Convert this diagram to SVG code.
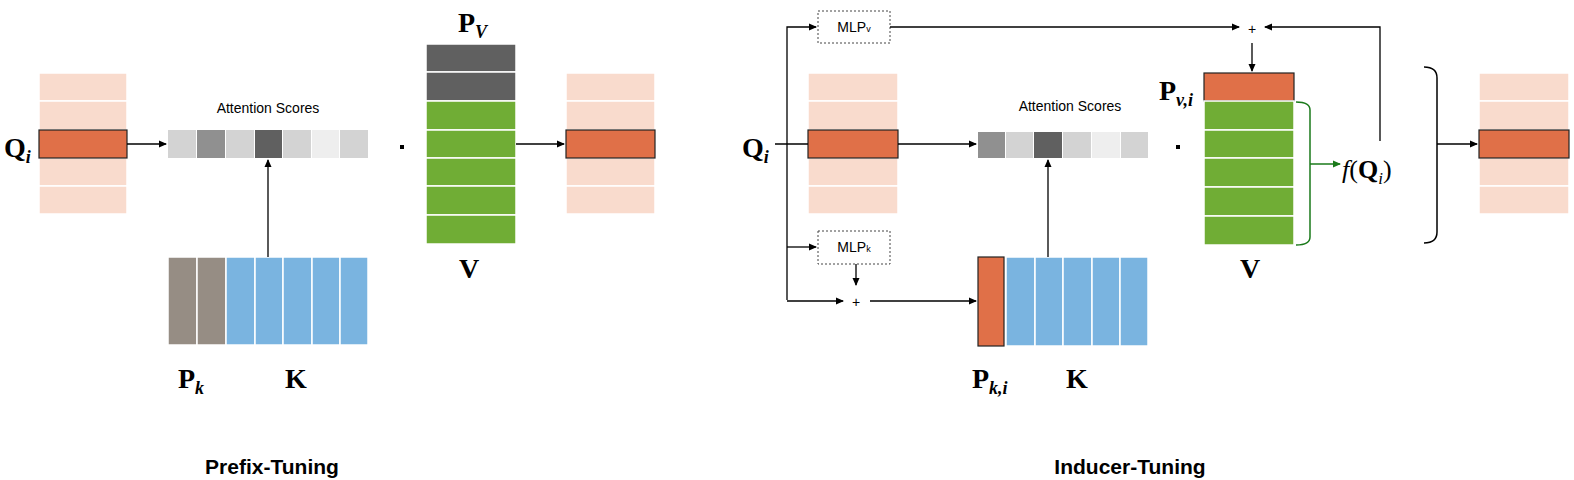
<svg xmlns="http://www.w3.org/2000/svg" width="1574" height="480" viewBox="0 0 1574 480">
<defs>
<marker id="ah" markerWidth="8" markerHeight="8" refX="7" refY="4" orient="auto" markerUnits="userSpaceOnUse"><path d="M0,0.5 L8,4 L0,7.5 Z" fill="#000"/></marker>
<marker id="ag" markerWidth="8" markerHeight="8" refX="7" refY="4" orient="auto" markerUnits="userSpaceOnUse"><path d="M0,0.5 L8,4 L0,7.5 Z" fill="#1a7a1a"/></marker>
<style>
.pk{fill:#f9dbcd;stroke:#fff;stroke-width:1.5}
.or{fill:#e07048;stroke:#222;stroke-width:1.2}
.gr{fill:#70ad35;stroke:#fff;stroke-width:1.5}
.dk{fill:#606060;stroke:#fff;stroke-width:1.5}
.bl{fill:#7ab4e0;stroke:#fff;stroke-width:1.5}
.tp{fill:#968d84;stroke:#fff;stroke-width:1.5}
.ln{fill:none;stroke:#000;stroke-width:1.3}
.m{font-family:"Liberation Serif",serif;font-weight:bold;font-size:28px}
.s{font-family:"Liberation Serif",serif;font-style:italic;font-size:18px}
.lab{font-family:"Liberation Sans",Arial,sans-serif;font-size:14px}
.title{font-family:"Liberation Sans",Arial,sans-serif;font-weight:bold;font-size:21px}
.mlp{fill:#fff;stroke:#444;stroke-width:1;stroke-dasharray:2,2}
</style>
</defs>
<rect width="1574" height="480" fill="#fff"/>

<!-- Prefix-Tuning -->
<g id="q-left">
<rect class="pk" x="39" y="73" width="88" height="28"/><rect class="pk" x="39" y="101" width="88" height="29"/>
<rect class="pk" x="39" y="158" width="88" height="28"/><rect class="pk" x="39" y="186" width="88" height="28"/>
<rect class="or" x="39" y="130" width="88" height="28"/>
<text class="m" x="4" y="157">Q<tspan class="s" dy="6">i</tspan></text>
</g>
<g id="scores-left">
<text class="lab" x="268" y="113" text-anchor="middle">Attention Scores</text>
<rect x="168" y="130" width="28" height="28" fill="#d3d3d3"/>
<rect x="197" y="130" width="28" height="28" fill="#909090"/>
<rect x="226" y="130" width="28" height="28" fill="#d3d3d3"/>
<rect x="255" y="130" width="27" height="28" fill="#606060"/>
<rect x="283" y="130" width="28" height="28" fill="#d3d3d3"/>
<rect x="312" y="130" width="27" height="28" fill="#eeeeee"/>
<rect x="340" y="130" width="28" height="28" fill="#d3d3d3"/>
<rect x="400" y="145" width="4" height="4" fill="#000"/>
</g>
<g id="k-left">
<rect class="tp" x="168" y="257" width="29" height="88"/><rect class="tp" x="197" y="257" width="29" height="88"/>
<rect class="bl" x="226" y="257" width="29" height="88"/><rect class="bl" x="255" y="257" width="28" height="88"/>
<rect class="bl" x="283" y="257" width="29" height="88"/><rect class="bl" x="312" y="257" width="28" height="88"/>
<rect class="bl" x="340" y="257" width="28" height="88"/>
<text class="m" x="178" y="388">P<tspan class="s" dy="6">k</tspan></text>
<text class="m" x="285" y="388">K</text>
</g>
<g id="v-left">
<rect class="dk" x="426" y="44" width="90" height="28"/><rect class="dk" x="426" y="72" width="90" height="29"/>
<rect class="gr" x="426" y="101" width="90" height="29"/><rect class="gr" x="426" y="130" width="90" height="28"/>
<rect class="gr" x="426" y="158" width="90" height="28"/><rect class="gr" x="426" y="186" width="90" height="29"/>
<rect class="gr" x="426" y="215" width="90" height="29"/>
<text class="m" x="458" y="32">P<tspan class="s" dy="6">V</tspan></text>
<text class="m" x="459" y="278">V</text>
</g>
<g id="out-left">
<rect class="pk" x="566" y="73" width="89" height="28"/><rect class="pk" x="566" y="101" width="89" height="29"/>
<rect class="pk" x="566" y="158" width="89" height="28"/><rect class="pk" x="566" y="186" width="89" height="28"/>
<rect class="or" x="566" y="130" width="89" height="28"/>
</g>
<text class="title" x="272" y="474" text-anchor="middle">Prefix-Tuning</text>

<!-- Inducer-Tuning -->
<g id="q-right">
<rect class="pk" x="808" y="73" width="90" height="28"/><rect class="pk" x="808" y="101" width="90" height="29"/>
<rect class="pk" x="808" y="158" width="90" height="28"/><rect class="pk" x="808" y="186" width="90" height="28"/>
<rect class="or" x="808" y="130" width="90" height="28"/>
<text class="m" x="742" y="157">Q<tspan class="s" dy="6">i</tspan></text>
</g>
<g id="mlpv"><rect class="mlp" x="818" y="11" width="72" height="32"/><text class="lab" x="854" y="32" text-anchor="middle">MLP<tspan font-size="9">v</tspan></text></g>
<g id="mlpk"><rect class="mlp" x="818" y="231" width="72" height="33"/><text class="lab" x="854" y="252" text-anchor="middle">MLP<tspan font-size="9">k</tspan></text></g>
<g id="plus-top"><text class="lab" x="1252" y="34" text-anchor="middle" font-size="12">+</text></g>
<g id="plus-bot"><text class="lab" x="856" y="307" text-anchor="middle" font-size="12">+</text></g>
<g id="scores-right">
<text class="lab" x="1070" y="111" text-anchor="middle">Attention Scores</text>
<rect x="978" y="132" width="27" height="26" fill="#909090"/>
<rect x="1006" y="132" width="27" height="26" fill="#d3d3d3"/>
<rect x="1034" y="132" width="28" height="26" fill="#606060"/>
<rect x="1063" y="132" width="28" height="26" fill="#d3d3d3"/>
<rect x="1092" y="132" width="28" height="26" fill="#eeeeee"/>
<rect x="1121" y="132" width="27" height="26" fill="#d3d3d3"/>
<rect x="1176" y="145" width="4" height="4" fill="#000"/>
</g>
<g id="k-right">
<rect class="or" x="978" y="257" width="26" height="89"/>
<rect class="bl" x="1006" y="257" width="29" height="89"/><rect class="bl" x="1035" y="257" width="28" height="89"/>
<rect class="bl" x="1063" y="257" width="29" height="89"/><rect class="bl" x="1092" y="257" width="28" height="89"/>
<rect class="bl" x="1120" y="257" width="28" height="89"/>
<text class="m" x="972" y="388">P<tspan class="s" dy="6">k,i</tspan></text>
<text class="m" x="1066" y="388">K</text>
</g>
<g id="v-right">
<rect class="or" x="1204" y="73" width="90" height="28"/>
<rect class="gr" x="1204" y="101" width="90" height="29"/><rect class="gr" x="1204" y="130" width="90" height="28"/>
<rect class="gr" x="1204" y="158" width="90" height="29"/><rect class="gr" x="1204" y="187" width="90" height="29"/>
<rect class="gr" x="1204" y="216" width="90" height="29"/>
<text class="m" x="1159" y="100">P<tspan class="s" dy="6">v,i</tspan></text>
<text class="m" x="1240" y="278">V</text>
</g>
<g id="fq"><text x="1342" y="178" font-family="Liberation Serif,serif" font-size="26"><tspan font-style="italic">f</tspan>(<tspan font-weight="bold">Q</tspan><tspan font-style="italic" font-size="17" dy="6">i</tspan><tspan dy="-6">)</tspan></text></g>
<g id="out-right">
<rect class="pk" x="1479" y="73" width="90" height="28"/><rect class="pk" x="1479" y="101" width="90" height="29"/>
<rect class="pk" x="1479" y="158" width="90" height="28"/><rect class="pk" x="1479" y="186" width="90" height="28"/>
<rect class="or" x="1479" y="130" width="90" height="28"/>
</g>
<text class="title" x="1130" y="474" text-anchor="middle">Inducer-Tuning</text>

<g id="connectors">
<path class="ln" d="M127,144 H166" marker-end="url(#ah)"/>
<path class="ln" d="M268,257 V160" marker-end="url(#ah)"/>
<path class="ln" d="M516,144 H564" marker-end="url(#ah)"/>
<path class="ln" d="M775,144 H808" stroke-width="2.5"/>
<path class="ln" d="M787,300 V27 H816" marker-end="url(#ah)"/>
<path class="ln" d="M787,247 H816" marker-end="url(#ah)"/>
<path class="ln" d="M787,301 H843" marker-end="url(#ah)"/>
<path class="ln" d="M856,264 V285" marker-end="url(#ah)"/>
<path class="ln" d="M870,301 H976" marker-end="url(#ah)"/>
<path class="ln" d="M890,27 H1239" marker-end="url(#ah)"/>
<path class="ln" d="M1380,141 V27 H1265" marker-end="url(#ah)"/>
<path class="ln" d="M1252,43 V71" marker-end="url(#ah)"/>
<path class="ln" d="M898,144 H976" marker-end="url(#ah)"/>
<path class="ln" d="M1048,257 V160" marker-end="url(#ah)"/>
<path d="M1296,102 Q1310,102 1310,110 V237 Q1310,245 1296,245" fill="none" stroke="#1a7a1a" stroke-width="1.5"/>
<path d="M1310,164 H1340" fill="none" stroke="#1a7a1a" stroke-width="1.5" marker-end="url(#ag)"/>
<path d="M1424,67 Q1437,67 1437,78 V232 Q1437,243 1424,243" fill="none" stroke="#000" stroke-width="1.5"/>
<path class="ln" d="M1437,144 H1477" marker-end="url(#ah)"/>
</g>
</svg>
